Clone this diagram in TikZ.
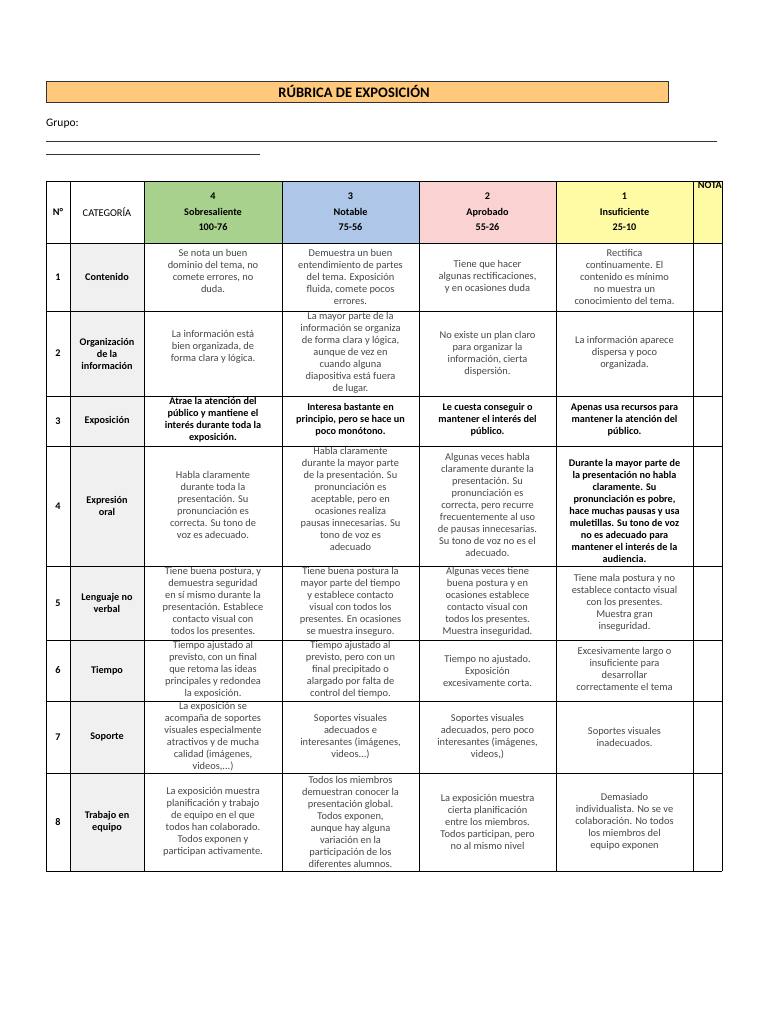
\documentclass[tikz,border=0pt]{standalone}
\usepackage{fontspec}
\setmainfont{Carlito}
\definecolor{titleor}{RGB}{255,200,122}
\definecolor{hgreen}{RGB}{169,209,142}
\definecolor{hblue}{RGB}{174,198,232}
\definecolor{hpink}{RGB}{250,210,210}
\definecolor{hyellow}{RGB}{255,251,165}
\begin{document}
\begin{tikzpicture}[x=1pt,y=-1pt,
  txt/.style={align=center,font=\fontsize{10.4}{12}\selectfont,text=black!72,inner sep=0pt},
  btxt/.style={align=center,font=\fontsize{10.2}{12}\selectfont\bfseries,text=black,inner sep=0pt},
  hdr/.style={align=center,font=\fontsize{10.2}{15.5}\selectfont\bfseries,inner sep=0pt},
  grid/.style={draw=black,line width=0.9pt}]
\useasboundingbox (0,0) rectangle (768,1024);
\fill[white] (0,0) rectangle (768,1024);
% title
\draw[fill=titleor,draw=black!80,line width=0.8pt] (46,81) rectangle (668,102);
\node[font=\fontsize{14.5}{16}\selectfont\bfseries] (title) at (354,91.5) {RÚBRICA DE EXPOSICIÓN};
\node[anchor=west,font=\fontsize{11.5}{12}\selectfont,inner sep=0pt] (grupo) at (46,124) {Grupo:};
\draw[black!80,line width=0.6pt] (46,141) -- (717,141);
\draw[black!80,line width=0.6pt] (46,154) -- (260,154);
% header fills
\fill[hgreen] (144,181) rectangle (282,243);
\fill[hblue] (282,181) rectangle (419,243);
\fill[hpink] (419,181) rectangle (556,243);
\fill[hyellow] (556,181) rectangle (722,243);
\fill[black!6] (70,243) rectangle (144,871);
% grid
\foreach \x in {46,70,144,282,419,556,693,722} \draw[grid] (\x,181) -- (\x,871);
\foreach \y in {181,243,311,396,446,566,640,701,773,871} \draw[grid] (46,\y) -- (722,\y);
% header text
\node[btxt,text=black] (hn) at (58,212) {N°};
\node[txt,text=black] (hc) at (107,212) {CATEGORÍA};
\node[hdr] (h4) at (213,212) {4\\Sobresaliente\\100-76};
\node[hdr] (h3) at (350.5,212) {3\\Notable\\75-56};
\node[hdr] (h2) at (487.5,212) {2\\Aprobado\\55-26};
\node[hdr] (h1) at (624.5,212) {1\\Insuficiente\\25-10};
\node[btxt,anchor=north east] (hnota) at (722,182) {NOTA};
% numbers and categories
\foreach \n/\y/\c in {1/277/Contenido,2/353.5/{Organización\\de la\\información},3/421/Exposición,4/506/{Expresión\\oral},5/603/{Lenguaje no\\verbal},6/670.5/Tiempo,7/737/Soporte,8/822/{Trabajo en\\equipo}}{
  \node[btxt] (n\n) at (58,\y) {\n};
  \node[btxt] (c\n) at (107,\y) {\c};
}
% row 1
\node[txt] (a1) at (213,271) {Se nota un buen\\dominio del tema, no\\comete errores, no\\duda.};
\node[txt] (b1) at (350.5,277) {Demuestra un buen\\entendimiento de partes\\del tema. Exposición\\fluida, comete pocos\\errores.};
\node[txt] (d1) at (487.5,277) {Tiene que hacer\\algunas rectificaciones,\\y en ocasiones duda};
\node[txt] (e1) at (624.5,277) {Rectifica\\continuamente. El\\contenido es mínimo\\no muestra un\\conocimiento del tema.};
% row 2
\node[txt] (a2) at (213,347) {La información está\\bien organizada, de\\forma clara y lógica.};
\node[txt] (b2) at (350.5,353) {La mayor parte de la\\información se organiza\\de forma clara y lógica,\\aunque de vez en\\cuando alguna\\diapositiva está fuera\\de lugar.};
\node[txt] (d2) at (487.5,353.5) {No existe un plan claro\\para organizar la\\información, cierta\\dispersión.};
\node[txt] (e2) at (624.5,353) {La información aparece\\dispersa y poco\\organizada.};
% row 3
\node[btxt] (a3) at (213,420) {Atrae la atención del\\público y mantiene el\\interés durante toda la\\exposición.};
\node[btxt] (b3) at (350.5,420) {Interesa bastante en\\principio, pero se hace un\\poco monótono.};
\node[btxt] (d3) at (487.5,420) {Le cuesta conseguir o\\mantener el interés del\\público.};
\node[btxt] (e3) at (624.5,420) {Apenas usa recursos para\\mantener la atención del\\público.};
% row 4
\node[txt] (a4) at (213,505) {Habla claramente\\durante toda la\\presentación. Su\\pronunciación es\\correcta. Su tono de\\voz es adecuado.};
\node[txt] (b4) at (350.5,499) {Habla claramente\\durante la mayor parte\\de la presentación. Su\\pronunciación es\\aceptable, pero en\\ocasiones realiza\\pausas innecesarias. Su\\tono de voz es\\adecuado};
\node[txt] (d4) at (487.5,505) {Algunas veces habla\\claramente durante la\\presentación. Su\\pronunciación es\\correcta, pero recurre\\frecuentemente al uso\\de pausas innecesarias.\\Su tono de voz no es el\\adecuado.};
\node[btxt] (e4) at (624.5,511) {Durante la mayor parte de\\la presentación no habla\\claramente. Su\\pronunciación es pobre,\\hace muchas pausas y usa\\muletillas. Su tono de voz\\no es adecuado para\\mantener el interés de la\\audiencia.};
% row 5
\node[txt] (a5) at (213,602) {Tiene buena postura, y\\demuestra seguridad\\en sí mismo durante la\\presentación. Establece\\contacto visual con\\todos los presentes.};
\node[txt] (b5) at (350.5,602) {Tiene buena postura la\\mayor parte del tiempo\\y establece contacto\\visual con todos los\\presentes. En ocasiones\\se muestra inseguro.};
\node[txt] (d5) at (487.5,602) {Algunas veces tiene\\buena postura y en\\ocasiones establece\\contacto visual con\\todos los presentes.\\Muestra inseguridad.};
\node[txt] (e5) at (624.5,603) {Tiene mala postura y no\\establece contacto visual\\con los presentes.\\Muestra gran\\inseguridad.};
% row 6
\node[txt] (a6) at (213,670) {Tiempo ajustado al\\previsto, con un final\\que retoma las ideas\\principales y redondea\\la exposición.};
\node[txt] (b6) at (350.5,670) {Tiempo ajustado al\\previsto, pero con un\\final precipitado o\\alargado por falta de\\control del tiempo.};
\node[txt] (d6) at (487.5,670.5) {Tiempo no ajustado.\\Exposición\\excesivamente corta.};
\node[txt] (e6) at (624.5,669) {Excesivamente largo o\\insuficiente para\\desarrollar\\correctamente el tema};
% row 7
\node[txt] (a7) at (213,737) {La exposición se\\acompaña de soportes\\visuales especialmente\\atractivos y de mucha\\calidad (imágenes,\\videos,...)};
\node[txt] (b7) at (350.5,737) {Soportes visuales\\adecuados e\\interesantes (imágenes,\\videos...)};
\node[txt] (d7) at (487.5,737) {Soportes visuales\\adecuados, pero poco\\interesantes (imágenes,\\videos,)};
\node[txt] (e7) at (624.5,737) {Soportes visuales\\inadecuados.};
% row 8
\node[txt] (a8) at (213,822) {La exposición muestra\\planificación y trabajo\\de equipo en el que\\todos han colaborado.\\Todos exponen y\\participan activamente.};
\node[txt] (b8) at (350.5,822) {Todos los miembros\\demuestran conocer la\\presentación global.\\Todos exponen,\\aunque hay alguna\\variación en la\\participación de los\\diferentes alumnos.};
\node[txt] (d8) at (487.5,822) {La exposición muestra\\cierta planificación\\entre los miembros.\\Todos participan, pero\\no al mismo nivel};
\node[txt] (e8) at (624.5,822) {Demasiado\\individualista. No se ve\\colaboración. No todos\\los miembros del\\equipo exponen};
\end{tikzpicture}
\end{document}
